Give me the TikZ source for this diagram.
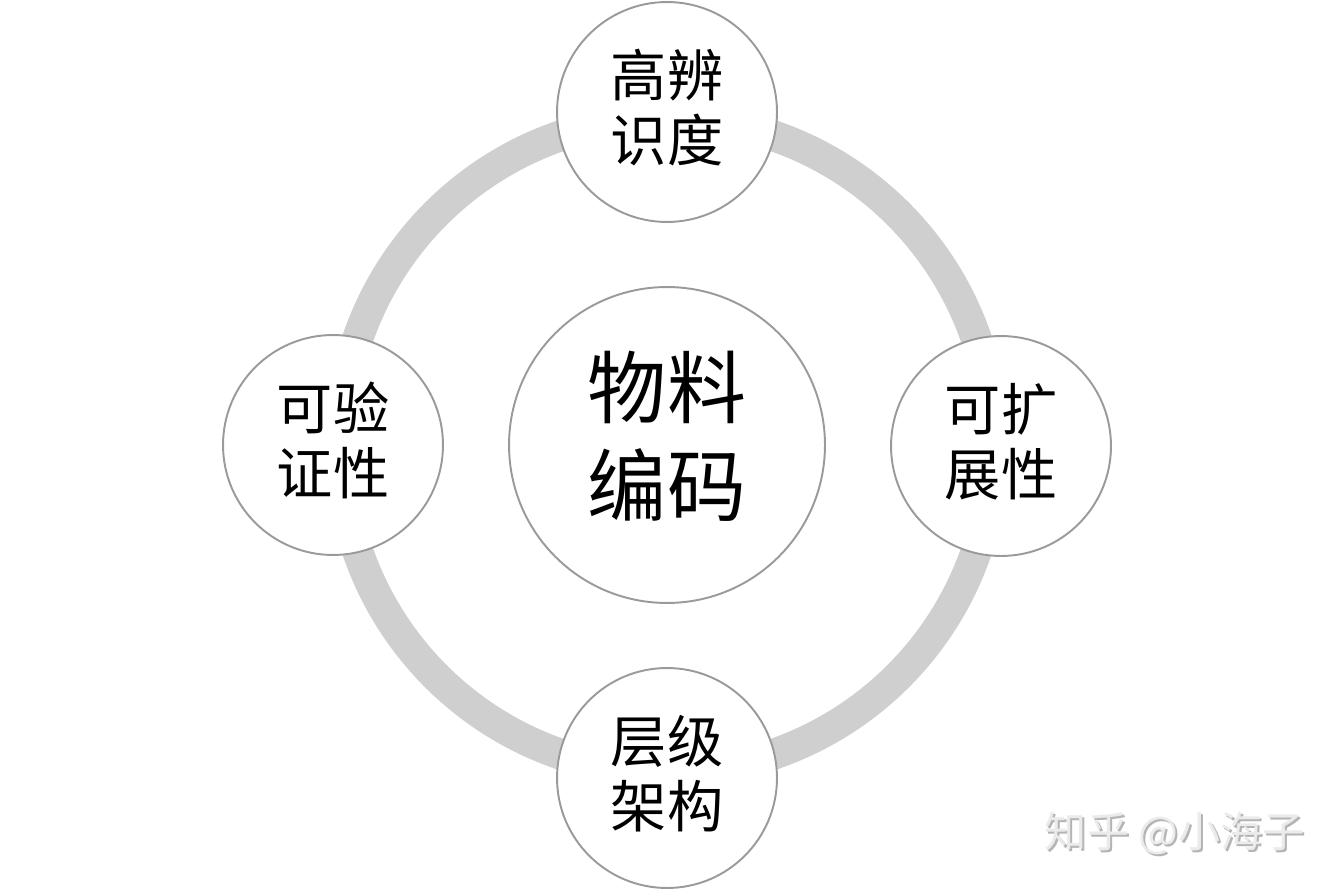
\documentclass[tikz,border=0pt]{standalone}
\usepackage{fontspec}
\setmainfont{Noto Sans CJK SC}
\definecolor{ringgray}{HTML}{CFCFCF}
\definecolor{edgegray}{HTML}{9A9A9A}
\definecolor{markgray}{HTML}{B4B4B4}

\begin{document}
\begin{tikzpicture}[x=0.02cm, y=-0.02cm,
    core/.style={circle, draw=edgegray, line width=1.1pt, fill=white,
      minimum size=6.32cm, inner sep=0pt, align=center, text depth=13pt,
      font=\fontsize{45}{56}\selectfont},
    item/.style={circle, draw=edgegray, line width=1.1pt, fill=white,
      minimum size=4.4cm, inner sep=0pt, align=center, text depth=8pt,
      font=\fontsize{32}{37}\selectfont}]

    \useasboundingbox (0,0) rectangle (1334,891);

    % Outer ring
    \draw[ringgray, line width=0.62cm] (667,445) circle (6.54cm);

    % Centre
    \node[core] (code) at (667,445) {物料\\编码};

    % Four properties
    \node[item] (ident) at (667,112) {高辨\\识度};
    \node[item] (expand) at (1001,446) {可扩\\展性};
    \node[item] (level) at (667,778) {层级\\架构};
    \node[item] (check) at (333,445) {可验\\证性};

    % Watermark
    \node[markgray, font=\fontsize{24}{24}\selectfont] (markshadow) at (1177,835) {知乎 @小海子};
    \node[white!92!black, font=\fontsize{24}{24}\selectfont] (mark) at (1175,833) {知乎 @小海子};

\end{tikzpicture}
\end{document}
